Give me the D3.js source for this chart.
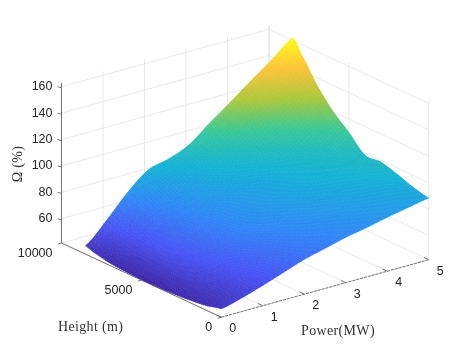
<!DOCTYPE html>
<html>
<head>
<meta charset="utf-8">
<script src="https://cdn.jsdelivr.net/npm/d3@7"></script>
<style>
html, body { margin: 0; background: #fff; }
svg { display: block; filter: blur(0.35px); }
.tick-label { font-family: "Liberation Sans", sans-serif; font-size: 12.5px; fill: #262626; }
.axis-label { font-family: "Liberation Serif", serif; font-size: 14px; fill: #333; letter-spacing: 0.35px; }
</style>
</head>
<body>
<svg id="chart" width="474" height="355"></svg>
<script>
// values
const powerValues = [0, 0.5, 1, 1.5, 2, 2.5, 3, 3.5, 4, 4.5, 5];
const heightValues = [8500, 8000, 7000, 6000, 5000, 4000, 3000, 2000, 1000, 0];
const omega8500 = [48, 62.5, 79, 92, 96.2, 102.8, 115, 126.5, 138.5, 150, 162];
const omega8000 = [46, 61, 75, 87.5, 93.5, 100, 110, 121, 132, 142.5, 152.7];
const omega7000 = [43.5, 58, 70, 80, 88, 94, 98.5, 105, 115, 125, 134.6];
const omega6000 = [42.5, 56, 68, 77, 85, 90, 94, 97.5, 102, 111, 120.4];
const omega5000 = [42, 56, 67, 75, 81, 86, 90, 94, 97, 100, 110];
const omega4000 = [42, 55, 65, 73, 79.5, 84, 88, 92, 95, 97.5, 98.4];
const omega3000 = [42.5, 53.5, 63, 71, 77, 81, 85, 89, 92, 95.5, 98.7];
const omega2000 = [43.5, 51.5, 60, 67, 73, 77.5, 81.5, 85, 88.5, 91.5, 95.3];
const omega1000 = [45, 50.5, 57.5, 64, 70, 74.5, 78, 81.5, 85, 88, 91];
const omega0 = [48, 52, 57, 62.5, 68, 72, 76, 79, 82.5, 85.5, 88.3];
const omegaRows = [omega8500, omega8000, omega7000, omega6000, omega5000, omega4000, omega3000, omega2000, omega1000, omega0];

const powerTicks = [0, 1, 2, 3, 4, 5];
const heightTicks = [0, 5000, 10000];
const omegaTicks = [60, 80, 100, 120, 140, 160];
const parula = ["#3e26a8", "#4852f4", "#2e87f7", "#12b1d6", "#37c897", "#abc739", "#fec338", "#f9fb15"];

// oblique view: each data axis gets its own screen x and y scale
const zMin = 41.6, zMax = 163;
const xPower = d3.scaleLinear().domain([0, 5]).range([0, 207.5]);
const yPower = d3.scaleLinear().domain([0, 5]).range([0, -57.5]);
const xHeight = d3.scaleLinear().domain([10000, 0]).range([61.5, 221.3]);
const yHeight = d3.scaleLinear().domain([10000, 0]).range([243, 317.2]);
const yOmega = d3.scaleLinear().domain([zMin, zMax]).range([0, -160.2]);

function project(p, h, z) {
    return [xPower(p) + xHeight(h), yPower(p) + yHeight(h) + yOmega(z)];
}

const color = d3.scaleSequential(d3.piecewise(d3.interpolateRgb, parula)).domain([42, 162]);

const svg = d3.select("#chart");

function line3d(g, a, b) {
    const s = project(...a), e = project(...b);
    return g.append("line")
        .attr("x1", s[0]).attr("y1", s[1])
        .attr("x2", e[0]).attr("y2", e[1]);
}

// grid on the walls and the floor
const grid = svg.append("g").attr("stroke", "#e2e2e2").attr("stroke-width", 0.8).attr("fill", "none");
omegaTicks.forEach(z => {
    line3d(grid, [0, 10000, z], [5, 10000, z]);
    line3d(grid, [5, 10000, z], [5, 0, z]);
});
powerTicks.forEach(p => {
    line3d(grid, [p, 10000, zMin], [p, 10000, zMax]);
    line3d(grid, [p, 0, zMin], [p, 10000, zMin]);
});
heightTicks.forEach(h => {
    line3d(grid, [5, h, zMin], [5, h, zMax]);
    line3d(grid, [0, h, zMin], [5, h, zMin]);
});

// axes
const axes = svg.append("g").attr("stroke", "#666").attr("stroke-width", 0.9).attr("fill", "none");
line3d(axes, [0, 10000, zMin], [0, 10000, zMax]);
line3d(axes, [0, 10000, zMin], [0, 0, zMin]);
line3d(axes, [0, 0, zMin], [5, 0, zMin]).attr("stroke-dasharray", "3 1");
omegaTicks.forEach(z => {
    const e = project(0, 10000, z);
    axes.append("line").attr("x1", e[0] - 4).attr("x2", e[0]).attr("y1", e[1]).attr("y2", e[1] + 1);
});
powerTicks.forEach(p => line3d(axes, [p, 0, zMin], [p, 300, zMin]));
heightTicks.forEach(h => line3d(axes, [0, h, zMin], [-0.09, h, zMin]));

// surface, painted from the back corner to the front one
const cells = [];
const steps = 8;
for (let r = 0; r < heightValues.length - 1; r++) {
    for (let c = powerValues.length - 2; c >= 0; c--) {
        for (let i = 0; i < steps; i++) {
            for (let j = steps - 1; j >= 0; j--) {
                cells.push({ r, c, i, j });
            }
        }
    }
}

// rounds the facets between grid rows and columns, like the smooth mesh in the original
function catmull(a, b, c, d, t) {
    return 0.5 * (2 * b + (c - a) * t + (2 * a - 5 * b + 4 * c - d) * t * t + (3 * b - a - 3 * c + d) * t * t * t);
}

function rowValue(r, c, v) {
    const row = omegaRows[Math.max(0, Math.min(omegaRows.length - 1, r))];
    const at = k => row[Math.max(0, Math.min(row.length - 1, k))];
    return catmull(at(c - 1), at(c), at(c + 1), at(c + 2), v);
}

function surfacePoint(d, u, v) {
    const p = powerValues[d.c] + (powerValues[d.c + 1] - powerValues[d.c]) * v;
    const h = heightValues[d.r] + (heightValues[d.r + 1] - heightValues[d.r]) * u;
    const z = catmull(rowValue(d.r - 1, d.c, v), rowValue(d.r, d.c, v), rowValue(d.r + 1, d.c, v), rowValue(d.r + 2, d.c, v), u);
    return [p, h, z];
}

svg.append("g").style("filter", "blur(0.5px)").selectAll("polygon")
    .data(cells)
    .enter()
    .append("polygon")
    .attr("points", d => {
        const u0 = d.i / steps, u1 = (d.i + 1) / steps, v0 = d.j / steps, v1 = (d.j + 1) / steps;
        return [[u0, v0], [u0, v1], [u1, v1], [u1, v0]]
            .map(q => project(...surfacePoint(d, q[0], q[1])).join(","))
            .join(" ");
    })
    .each(function(d) {
        const z = surfacePoint(d, (d.i + 0.5) / steps, (d.j + 0.5) / steps)[2];
        d3.select(this).attr("fill", color(z)).attr("stroke", color(z)).attr("stroke-width", 0.6);
    });

// tick labels
svg.append("g").selectAll("text")
    .data(omegaTicks)
    .enter()
    .append("text")
    .classed("tick-label", true)
    .attr("text-anchor", "end")
    .attr("x", 52.5)
    .attr("y", d => project(0, 10000, d)[1] + 3.5)
    .text(d => d);

svg.append("g").selectAll("text")
    .data(powerTicks)
    .enter()
    .append("text")
    .classed("tick-label", true)
    .attr("text-anchor", "middle")
    .attr("x", d => project(d, 0, zMin)[0] + 11.5)
    .attr("y", d => project(d, 0, zMin)[1] + 15)
    .text(d => d);

svg.append("g").selectAll("text")
    .data(heightTicks)
    .enter()
    .append("text")
    .classed("tick-label", true)
    .attr("text-anchor", "end")
    .attr("x", d => project(0, d, zMin)[0] - 9)
    .attr("y", d => project(0, d, zMin)[1] + 14)
    .text(d => d);

// axis titles
svg.append("text").classed("axis-label", true).attr("x", 58).attr("y", 331).text("Height (m)");
svg.append("text").classed("axis-label", true).attr("x", 301).attr("y", 335).text("Power(MW)");
svg.append("text").classed("axis-label", true)
    .attr("text-anchor", "middle")
    .attr("transform", "translate(22,164) rotate(-90)")
    .text("Ω (%)");
</script>
</body>
</html>
